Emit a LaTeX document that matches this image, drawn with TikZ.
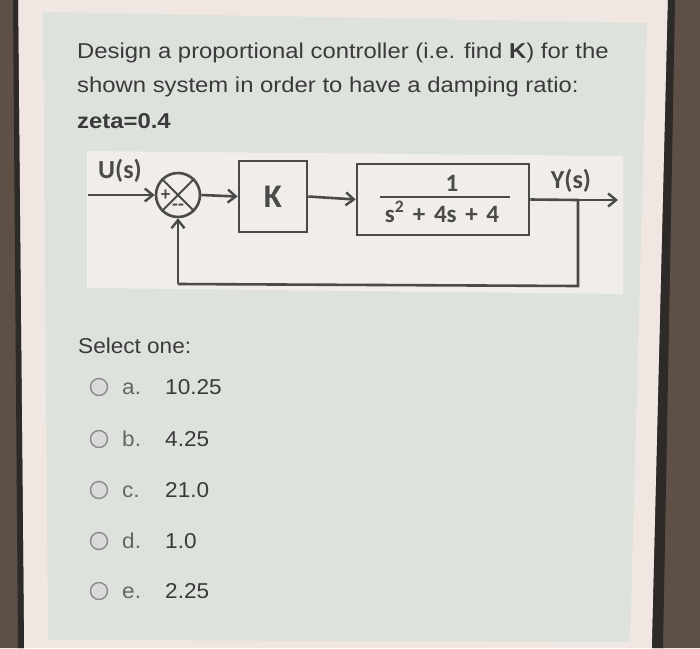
\documentclass[tikz,border=0pt]{standalone}
\usepackage{fontspec}
\setmainfont{Liberation Sans}
\newfontfamily\qfont[FakeStretch=1.11]{Liberation Sans}
\newfontfamily\ofont[FakeStretch=1.05]{Liberation Sans}
\newfontfamily\dfont{Carlito}
\usetikzlibrary{arrows.meta}

\definecolor{framebrown}{HTML}{5E5046}
\definecolor{framedark}{HTML}{2E2A27}
\definecolor{bandpink}{HTML}{F0E6E2}
\definecolor{panelgray}{HTML}{DEE2DD}
\definecolor{diagbg}{HTML}{F1EDE8}
\definecolor{inkgray}{HTML}{3A3A3A}
\definecolor{lettergray}{HTML}{666666}
\definecolor{wiregray}{HTML}{4A4A4A}
\definecolor{radiogray}{HTML}{8A8A8A}
\definecolor{radiofill}{HTML}{DADADA}

\begin{document}
\begin{tikzpicture}[x=1pt, y=-1pt,
  qtext/.style={anchor=base west, inner sep=0pt, text=inkgray, font=\qfont\fontsize{21.5}{26}\selectfont},
  otext/.style={anchor=base west, inner sep=0pt, text=inkgray, font=\ofont\fontsize{21.5}{26}\selectfont},
  lettertext/.style={otext, text=lettergray},
  radio/.style={circle, draw=radiogray, line width=1.4pt, fill=radiofill, minimum size=17pt, inner sep=0pt},
  block/.style={rectangle, draw=wiregray, line width=2.6pt, inner sep=0pt},
  sumnode/.style={circle, draw=wiregray, line width=2.6pt, minimum size=44pt, inner sep=0pt},
  lbl/.style={text=wiregray, font=\dfont\bfseries\fontsize{26}{28}\selectfont, inner sep=0pt},
  plainwire/.style={draw=wiregray, line width=2.6pt},
  wire/.style={plainwire, -{Straight Barb[length=8pt,width=13pt,line width=2.4pt]}}
]
\useasboundingbox (0,0) rectangle (700,648);

% Screen and frame
\fill[bandpink] (0,0) rectangle (700,648);
\fill[panelgray] (43,12) -- (647,23) -- (630,642) -- (48,640) -- cycle;
\fill[framebrown] (0,0) -- (18,0) -- (24,648) -- (0,648) -- cycle;
\fill[framedark] (13,0) -- (18,0) -- (24,648) -- (18,648) -- cycle;
\fill[framebrown] (668,0) -- (700,0) -- (700,648) -- (652,648) -- cycle;
\fill[framedark] (668,0) -- (675,0) -- (663,648) -- (652,648) -- cycle;

% Question
\node[qtext] (q1) at (77,58) {Design a proportional controller (i.e. find \textbf{K}) for the};
\node[qtext] (q2) at (77,92) {shown system in order to have a damping ratio:};
\node[qtext, font=\qfont\bfseries\fontsize{21.5}{26}\selectfont] (q3) at (77,128) {zeta=0.4};

% Block diagram
\fill[diagbg] (87,151) -- (623,156) -- (623,294) -- (87,288) -- cycle;

\node[sumnode] (sum) at (178,195) {};
\draw[plainwire, line width=2pt] (sum.north west) -- (sum.south east)
  (sum.north east) -- (sum.south west);
\node[lbl, font=\dfont\bfseries\fontsize{19}{19}\selectfont] (plus) at (165.5,195) {+};
\node[lbl, font=\dfont\bfseries\fontsize{19}{19}\selectfont] (minus) at (178,207.5) {--};

\node[block, minimum width=68pt, minimum height=71pt] (K) at (273,196.5) {};
\node[lbl, font=\dfont\bfseries\fontsize{33}{33}\selectfont] (Ktext) at (K) {K};

\node[block, minimum width=172pt, minimum height=71pt] (G) at (443,199.5) {};
\node[lbl, font=\dfont\bfseries\fontsize{25}{25}\selectfont, anchor=base] (num) at (452,191) {1};
\draw[plainwire, line width=2pt] (380,197) -- (510,197);
\node[lbl, font=\dfont\bfseries\fontsize{25}{25}\selectfont, anchor=base] (den) at (442,222)
  {s\textsuperscript{2}\hspace{3pt} + \hspace{3pt}4s\hspace{3pt} + \hspace{3pt}4};

\node[lbl] (U) at (120,171) {U(s)};
\node[lbl] (Y) at (571,181) {Y(s)};

\coordinate (in) at (88,195);
\coordinate (br) at (578,200);
\coordinate (out) at (618,200);
\coordinate (brb) at (578,286);
\coordinate (fbl) at (178,284);

\draw[wire] (in) -- (sum.west);
\draw[wire] (sum.east) -- (K.west);
\draw[wire] (K.east) -- (G.west);
\draw[plainwire] (G.east) -- (br);
\draw[wire] (br) -- (out);
\draw[plainwire] (br) -- (brb) -- (fbl);
\draw[wire] (fbl) -- (sum.south);

% Answers
\node[otext] (sel) at (78,353) {Select one:};
\foreach \lt/\val/\yy in {a/10.25/394, b/4.25/446, c/21.0/497, d/1.0/548, e/2.25/598} {
  \node[radio] (radio-\lt) at (99,\yy-7) {};
  \node[lettertext] (letter-\lt) at (122,\yy) {\lt.};
  \node[otext] (val-\lt) at (165,\yy) {\val};
}

\end{tikzpicture}
\end{document}
